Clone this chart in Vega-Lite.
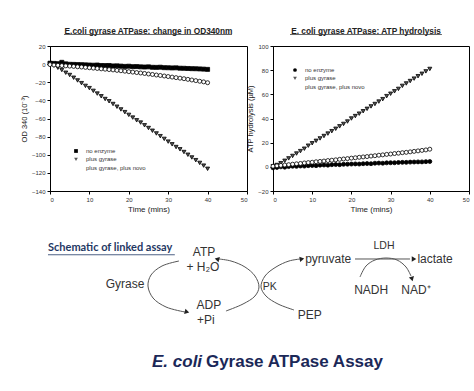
{
 "$schema": "https://vega.github.io/schema/vega-lite/v6.json",
 "padding": {"left": 19, "top": 26, "right": 0, "bottom": 0},
 "background": "white",
 "config": {
  "font": "Liberation Sans",
  "view": {"stroke": "#000", "strokeWidth": 1},
  "axis": {"grid": false, "domainColor": "#000", "tickColor": "#000", "tickSize": 3, "labelFontSize": 6, "labelColor": "#333", "titleFontSize": 7.5, "titleFontWeight": "normal", "titleColor": "#222", "labelFont": "Liberation Sans", "titleFont": "Liberation Sans", "titlePadding": 3, "labelPadding": 2},
  "title": {"fontSize": 8.3, "fontWeight": "bold", "color": "#222", "offset": -1.5, "anchor": "middle", "font": "Liberation Sans", "frame": "group"},
  "legend": {"labelFontSize": 6, "labelColor": "#333", "symbolSize": 14, "symbolStrokeColor": "#000", "symbolStrokeWidth": 0.8, "rowPadding": 0.3, "labelOffset": 7, "padding": 0, "labelFont": "Liberation Sans"}
 },
 "datasets": {
  "od": [
   {"t":0,"s":"no enzyme","v":1.0},{"t":1,"s":"no enzyme","v":0.8},{"t":2,"s":"no enzyme","v":0.5},{"t":3,"s":"no enzyme","v":2.0},{"t":4,"s":"no enzyme","v":0.3},{"t":5,"s":"no enzyme","v":-0.2},{"t":6,"s":"no enzyme","v":-0.3},{"t":7,"s":"no enzyme","v":-0.5},{"t":8,"s":"no enzyme","v":-0.6},{"t":9,"s":"no enzyme","v":-0.8},{"t":10,"s":"no enzyme","v":-1.0},{"t":11,"s":"no enzyme","v":-1.2},{"t":12,"s":"no enzyme","v":-1.0},{"t":13,"s":"no enzyme","v":-1.5},{"t":14,"s":"no enzyme","v":-1.6},{"t":15,"s":"no enzyme","v":-1.5},{"t":16,"s":"no enzyme","v":-2.0},{"t":17,"s":"no enzyme","v":-1.9},{"t":18,"s":"no enzyme","v":-2.2},{"t":19,"s":"no enzyme","v":-2.5},{"t":20,"s":"no enzyme","v":-2.3},{"t":21,"s":"no enzyme","v":-2.8},{"t":22,"s":"no enzyme","v":-2.7},{"t":23,"s":"no enzyme","v":-3.0},{"t":24,"s":"no enzyme","v":-3.2},{"t":25,"s":"no enzyme","v":-3.0},{"t":26,"s":"no enzyme","v":-3.5},{"t":27,"s":"no enzyme","v":-3.6},{"t":28,"s":"no enzyme","v":-3.4},{"t":29,"s":"no enzyme","v":-3.9},{"t":30,"s":"no enzyme","v":-4.0},{"t":31,"s":"no enzyme","v":-4.2},{"t":32,"s":"no enzyme","v":-4.1},{"t":33,"s":"no enzyme","v":-4.5},{"t":34,"s":"no enzyme","v":-4.6},{"t":35,"s":"no enzyme","v":-4.8},{"t":36,"s":"no enzyme","v":-5.0},{"t":37,"s":"no enzyme","v":-5.1},{"t":38,"s":"no enzyme","v":-5.3},{"t":39,"s":"no enzyme","v":-5.5},{"t":40,"s":"no enzyme","v":-5.8},
   {"t":0,"s":"plus gyrase","v":0.5},{"t":1,"s":"plus gyrase","v":-1.5},{"t":2,"s":"plus gyrase","v":-4},{"t":3,"s":"plus gyrase","v":-6.5},{"t":4,"s":"plus gyrase","v":-9.5},{"t":5,"s":"plus gyrase","v":-12},{"t":6,"s":"plus gyrase","v":-15},{"t":7,"s":"plus gyrase","v":-18},{"t":8,"s":"plus gyrase","v":-21},{"t":9,"s":"plus gyrase","v":-24},{"t":10,"s":"plus gyrase","v":-26.5},{"t":11,"s":"plus gyrase","v":-29.5},{"t":12,"s":"plus gyrase","v":-32.5},{"t":13,"s":"plus gyrase","v":-35.5},{"t":14,"s":"plus gyrase","v":-38.5},{"t":15,"s":"plus gyrase","v":-41},{"t":16,"s":"plus gyrase","v":-44},{"t":17,"s":"plus gyrase","v":-47},{"t":18,"s":"plus gyrase","v":-50},{"t":19,"s":"plus gyrase","v":-53},{"t":20,"s":"plus gyrase","v":-56},{"t":21,"s":"plus gyrase","v":-59},{"t":22,"s":"plus gyrase","v":-62},{"t":23,"s":"plus gyrase","v":-64.5},{"t":24,"s":"plus gyrase","v":-67.5},{"t":25,"s":"plus gyrase","v":-70.5},{"t":26,"s":"plus gyrase","v":-73.5},{"t":27,"s":"plus gyrase","v":-76.5},{"t":28,"s":"plus gyrase","v":-79.5},{"t":29,"s":"plus gyrase","v":-82.5},{"t":30,"s":"plus gyrase","v":-85.5},{"t":31,"s":"plus gyrase","v":-88.5},{"t":32,"s":"plus gyrase","v":-91.5},{"t":33,"s":"plus gyrase","v":-94},{"t":34,"s":"plus gyrase","v":-97},{"t":35,"s":"plus gyrase","v":-100},{"t":36,"s":"plus gyrase","v":-103},{"t":37,"s":"plus gyrase","v":-106},{"t":38,"s":"plus gyrase","v":-109},{"t":39,"s":"plus gyrase","v":-112},{"t":40,"s":"plus gyrase","v":-115.5},
   {"t":0,"s":"plus gyrase, plus novo","v":-0.5},{"t":1,"s":"plus gyrase, plus novo","v":-1.0},{"t":2,"s":"plus gyrase, plus novo","v":-1.3},{"t":3,"s":"plus gyrase, plus novo","v":-1.6},{"t":4,"s":"plus gyrase, plus novo","v":-1.9},{"t":5,"s":"plus gyrase, plus novo","v":-2.2},{"t":6,"s":"plus gyrase, plus novo","v":-2.5},{"t":7,"s":"plus gyrase, plus novo","v":-2.9},{"t":8,"s":"plus gyrase, plus novo","v":-3.2},{"t":9,"s":"plus gyrase, plus novo","v":-3.6},{"t":10,"s":"plus gyrase, plus novo","v":-4.0},{"t":11,"s":"plus gyrase, plus novo","v":-4.4},{"t":12,"s":"plus gyrase, plus novo","v":-4.8},{"t":13,"s":"plus gyrase, plus novo","v":-5.2},{"t":14,"s":"plus gyrase, plus novo","v":-5.6},{"t":15,"s":"plus gyrase, plus novo","v":-6.0},{"t":16,"s":"plus gyrase, plus novo","v":-6.4},{"t":17,"s":"plus gyrase, plus novo","v":-6.9},{"t":18,"s":"plus gyrase, plus novo","v":-7.3},{"t":19,"s":"plus gyrase, plus novo","v":-7.8},{"t":20,"s":"plus gyrase, plus novo","v":-8.3},{"t":21,"s":"plus gyrase, plus novo","v":-8.8},{"t":22,"s":"plus gyrase, plus novo","v":-9.3},{"t":23,"s":"plus gyrase, plus novo","v":-9.8},{"t":24,"s":"plus gyrase, plus novo","v":-10.3},{"t":25,"s":"plus gyrase, plus novo","v":-10.9},{"t":26,"s":"plus gyrase, plus novo","v":-11.4},{"t":27,"s":"plus gyrase, plus novo","v":-12.0},{"t":28,"s":"plus gyrase, plus novo","v":-12.5},{"t":29,"s":"plus gyrase, plus novo","v":-13.1},{"t":30,"s":"plus gyrase, plus novo","v":-13.7},{"t":31,"s":"plus gyrase, plus novo","v":-14.3},{"t":32,"s":"plus gyrase, plus novo","v":-14.9},{"t":33,"s":"plus gyrase, plus novo","v":-15.5},{"t":34,"s":"plus gyrase, plus novo","v":-16.1},{"t":35,"s":"plus gyrase, plus novo","v":-16.8},{"t":36,"s":"plus gyrase, plus novo","v":-17.5},{"t":37,"s":"plus gyrase, plus novo","v":-18.2},{"t":38,"s":"plus gyrase, plus novo","v":-18.9},{"t":39,"s":"plus gyrase, plus novo","v":-19.6},{"t":40,"s":"plus gyrase, plus novo","v":-20.5}
  ],
  "atp": [
   {"t":0,"s":"no enzyme","v":-0.8},{"t":1,"s":"no enzyme","v":-0.5},{"t":2,"s":"no enzyme","v":0},{"t":3,"s":"no enzyme","v":-0.3},{"t":4,"s":"no enzyme","v":0.2},{"t":5,"s":"no enzyme","v":0.5},{"t":6,"s":"no enzyme","v":0.4},{"t":7,"s":"no enzyme","v":0.7},{"t":8,"s":"no enzyme","v":0.6},{"t":9,"s":"no enzyme","v":1.0},{"t":10,"s":"no enzyme","v":1.1},{"t":11,"s":"no enzyme","v":1.0},{"t":12,"s":"no enzyme","v":1.4},{"t":13,"s":"no enzyme","v":1.5},{"t":14,"s":"no enzyme","v":1.4},{"t":15,"s":"no enzyme","v":1.8},{"t":16,"s":"no enzyme","v":1.9},{"t":17,"s":"no enzyme","v":1.8},{"t":18,"s":"no enzyme","v":2.1},{"t":19,"s":"no enzyme","v":2.2},{"t":20,"s":"no enzyme","v":2.3},{"t":21,"s":"no enzyme","v":2.4},{"t":22,"s":"no enzyme","v":2.3},{"t":23,"s":"no enzyme","v":2.6},{"t":24,"s":"no enzyme","v":2.7},{"t":25,"s":"no enzyme","v":2.6},{"t":26,"s":"no enzyme","v":3.0},{"t":27,"s":"no enzyme","v":3.1},{"t":28,"s":"no enzyme","v":3.0},{"t":29,"s":"no enzyme","v":3.3},{"t":30,"s":"no enzyme","v":3.4},{"t":31,"s":"no enzyme","v":3.4},{"t":32,"s":"no enzyme","v":3.6},{"t":33,"s":"no enzyme","v":3.7},{"t":34,"s":"no enzyme","v":3.7},{"t":35,"s":"no enzyme","v":3.9},{"t":36,"s":"no enzyme","v":4.0},{"t":37,"s":"no enzyme","v":4.1},{"t":38,"s":"no enzyme","v":4.1},{"t":39,"s":"no enzyme","v":4.3},{"t":40,"s":"no enzyme","v":4.4},
   {"t":0,"s":"plus gyrase","v":0.5},{"t":1,"s":"plus gyrase","v":1.5},{"t":2,"s":"plus gyrase","v":3},{"t":3,"s":"plus gyrase","v":5},{"t":4,"s":"plus gyrase","v":7},{"t":5,"s":"plus gyrase","v":9},{"t":6,"s":"plus gyrase","v":11},{"t":7,"s":"plus gyrase","v":13},{"t":8,"s":"plus gyrase","v":15},{"t":9,"s":"plus gyrase","v":17.5},{"t":10,"s":"plus gyrase","v":19.5},{"t":11,"s":"plus gyrase","v":21.5},{"t":12,"s":"plus gyrase","v":23.5},{"t":13,"s":"plus gyrase","v":25.5},{"t":14,"s":"plus gyrase","v":27.5},{"t":15,"s":"plus gyrase","v":29.5},{"t":16,"s":"plus gyrase","v":31.5},{"t":17,"s":"plus gyrase","v":33.5},{"t":18,"s":"plus gyrase","v":35.5},{"t":19,"s":"plus gyrase","v":37.5},{"t":20,"s":"plus gyrase","v":40},{"t":21,"s":"plus gyrase","v":42},{"t":22,"s":"plus gyrase","v":44},{"t":23,"s":"plus gyrase","v":46},{"t":24,"s":"plus gyrase","v":48},{"t":25,"s":"plus gyrase","v":50},{"t":26,"s":"plus gyrase","v":52},{"t":27,"s":"plus gyrase","v":54},{"t":28,"s":"plus gyrase","v":56},{"t":29,"s":"plus gyrase","v":58.5},{"t":30,"s":"plus gyrase","v":60.5},{"t":31,"s":"plus gyrase","v":62.5},{"t":32,"s":"plus gyrase","v":64.5},{"t":33,"s":"plus gyrase","v":67},{"t":34,"s":"plus gyrase","v":69},{"t":35,"s":"plus gyrase","v":71},{"t":36,"s":"plus gyrase","v":73},{"t":37,"s":"plus gyrase","v":75},{"t":38,"s":"plus gyrase","v":77},{"t":39,"s":"plus gyrase","v":79},{"t":40,"s":"plus gyrase","v":81},
   {"t":0,"s":"plus gyrase, plus novo","v":0.5},{"t":1,"s":"plus gyrase, plus novo","v":0.8},{"t":2,"s":"plus gyrase, plus novo","v":1.2},{"t":3,"s":"plus gyrase, plus novo","v":1.5},{"t":4,"s":"plus gyrase, plus novo","v":1.8},{"t":5,"s":"plus gyrase, plus novo","v":2.2},{"t":6,"s":"plus gyrase, plus novo","v":2.5},{"t":7,"s":"plus gyrase, plus novo","v":2.8},{"t":8,"s":"plus gyrase, plus novo","v":3.2},{"t":9,"s":"plus gyrase, plus novo","v":3.5},{"t":10,"s":"plus gyrase, plus novo","v":3.8},{"t":11,"s":"plus gyrase, plus novo","v":4.2},{"t":12,"s":"plus gyrase, plus novo","v":4.5},{"t":13,"s":"plus gyrase, plus novo","v":4.8},{"t":14,"s":"plus gyrase, plus novo","v":5.2},{"t":15,"s":"plus gyrase, plus novo","v":5.5},{"t":16,"s":"plus gyrase, plus novo","v":5.8},{"t":17,"s":"plus gyrase, plus novo","v":6.2},{"t":18,"s":"plus gyrase, plus novo","v":6.5},{"t":19,"s":"plus gyrase, plus novo","v":6.8},{"t":20,"s":"plus gyrase, plus novo","v":7.2},{"t":21,"s":"plus gyrase, plus novo","v":7.5},{"t":22,"s":"plus gyrase, plus novo","v":7.9},{"t":23,"s":"plus gyrase, plus novo","v":8.2},{"t":24,"s":"plus gyrase, plus novo","v":8.5},{"t":25,"s":"plus gyrase, plus novo","v":8.9},{"t":26,"s":"plus gyrase, plus novo","v":9.2},{"t":27,"s":"plus gyrase, plus novo","v":9.6},{"t":28,"s":"plus gyrase, plus novo","v":9.9},{"t":29,"s":"plus gyrase, plus novo","v":10.3},{"t":30,"s":"plus gyrase, plus novo","v":10.6},{"t":31,"s":"plus gyrase, plus novo","v":11.0},{"t":32,"s":"plus gyrase, plus novo","v":11.3},{"t":33,"s":"plus gyrase, plus novo","v":11.7},{"t":34,"s":"plus gyrase, plus novo","v":12.0},{"t":35,"s":"plus gyrase, plus novo","v":12.4},{"t":36,"s":"plus gyrase, plus novo","v":12.8},{"t":37,"s":"plus gyrase, plus novo","v":13.2},{"t":38,"s":"plus gyrase, plus novo","v":13.6},{"t":39,"s":"plus gyrase, plus novo","v":14.0},{"t":40,"s":"plus gyrase, plus novo","v":14.6}
  ],
  "tul_od": [{"t":3.55,"t2":46.2,"v":32.7}],
  "tul_atp": [{"t":4.34,"t2":43.1,"v":109.5}],
  "txt": [
   {"g":"head","x":-0.47,"y":90,"label":"Schematic of linked assay"},
   {"g":"main","x":36.15,"y":87.3,"label":"ATP"},
   {"g":"main","x":35.9,"y":77.3,"label":"+ H₂O"},
   {"g":"main","x":17.6,"y":66,"label":"Gyrase"},
   {"g":"main","x":37.3,"y":52,"label":"ADP"},
   {"g":"main","x":36.6,"y":42,"label":"+Pi"},
   {"g":"main","x":65.3,"y":82.7,"label":"pyruvate"},
   {"g":"main","x":90.4,"y":82.7,"label":"lactate"},
   {"g":"main","x":75.4,"y":62,"label":"NADH"},
   {"g":"main","x":85.9,"y":62,"label":"NAD⁺"},
   {"g":"main","x":61.0,"y":45.3,"label":"PEP"},
   {"g":"small","x":51.6,"y":64,"label":"PK"},
   {"g":"small","x":78.4,"y":91.3,"label":"LDH"},
   {"g":"title1","x":35.7,"y":14,"label":"E. coli"},
   {"g":"title2","x":36.6,"y":14,"label":"Gyrase ATPase Assay"}
  ],
  "curves": [
   {"id":"c1","i":0,"x":30.28,"y":81.33},{"id":"c1","i":1,"x":26.29,"y":78.0},{"id":"c1","i":2,"x":23.71,"y":72.0},{"id":"c1","i":3,"x":23.0,"y":64.67},{"id":"c1","i":4,"x":24.18,"y":56.67},{"id":"c1","i":5,"x":27.23,"y":50.67},{"id":"c1","i":6,"x":31.69,"y":47.33},
   {"id":"c2","i":0,"x":41.31,"y":48.0},{"id":"c2","i":1,"x":45.31,"y":52.67},{"id":"c2","i":2,"x":48.12,"y":58.0},{"id":"c2","i":3,"x":49.06,"y":64.0},{"id":"c2","i":4,"x":48.12,"y":71.33},{"id":"c2","i":5,"x":45.77,"y":77.33},{"id":"c2","i":6,"x":42.49,"y":81.33},{"id":"c2","i":7,"x":39.67,"y":82.67},
   {"id":"c3","i":0,"x":57.28,"y":48.67},{"id":"c3","i":1,"x":53.52,"y":52.67},{"id":"c3","i":2,"x":50.70,"y":58.0},{"id":"c3","i":3,"x":49.53,"y":64.0},{"id":"c3","i":4,"x":50.47,"y":71.33},{"id":"c3","i":5,"x":53.05,"y":77.33},{"id":"c3","i":6,"x":56.10,"y":81.33},{"id":"c3","i":7,"x":58.69,"y":82.67},
   {"id":"c4","i":0,"x":71.6,"y":82.67},{"id":"c4","i":1,"x":84.5,"y":82.67},
   {"id":"c5","i":0,"x":72.77,"y":70.67},{"id":"c5","i":1,"x":74.18,"y":78.0},{"id":"c5","i":2,"x":76.29,"y":82.0},{"id":"c5","i":3,"x":78.87,"y":83.33},{"id":"c5","i":4,"x":81.46,"y":82.0},{"id":"c5","i":5,"x":83.57,"y":77.33},{"id":"c5","i":6,"x":84.74,"y":71.33}
  ],
  "heads": [
   {"id":"a1","x":32.16,"y":47.33},
   {"id":"a2","x":39.2,"y":82.67},
   {"id":"a3","x":59.15,"y":82.67},
   {"id":"a4","x":85.45,"y":82.67},
   {"id":"a5","x":84.98,"y":69.33}
  ],
  "uline": [{"x":-0.47,"x2":29.3,"y":85.5}]
 },
 "vconcat": [
  {
   "hconcat": [
    {
     "width": 197, "height": 145,
     "title": "E.coli gyrase ATPase: change in OD340nm",
     "encoding": {
      "x": {"field": "t", "type": "quantitative", "scale": {"domain": [0, 50]}, "axis": {"values": [0, 10, 20, 30, 40, 50], "title": "Time (mins)", "titleFontSize": 8}},
      "y": {"field": "v", "type": "quantitative", "scale": {"domain": [-140, 20]}, "axis": {"values": [-140, -120, -100, -80, -60, -40, -20, 0, 20], "title": "OD 340 (10⁻³)"}}
     },
     "layer": [
      {
       "data": {"name": "od"},
       "mark": {"type": "point", "stroke": "#000", "strokeWidth": 0.8, "size": 16, "opacity": 1},
       "encoding": {
        "shape": {"field": "s", "type": "nominal", "scale": {"domain": ["no enzyme", "plus gyrase", "plus gyrase, plus novo"], "range": ["square", "triangle-down", "circle"]}, "legend": {"orient": "none", "legendX": 23, "legendY": 102, "title": null}},
        "fill": {"field": "s", "type": "nominal", "scale": {"domain": ["no enzyme", "plus gyrase", "plus gyrase, plus novo"], "range": ["#000", "#555", "#fff"]}, "legend": {"orient": "none", "legendX": 23, "legendY": 102, "title": null}}
       }
      },
      {
       "data": {"name": "tul_od"},
       "mark": {"type": "rule", "stroke": "#222", "strokeWidth": 0.7},
       "encoding": {"x2": {"field": "t2"}}
      }
     ]
    },
    {
     "width": 196, "height": 145,
     "title": {"text": "E. coli gyrase ATPase: ATP hydrolysis", "dx": -5},
     "encoding": {
      "x": {"field": "t", "type": "quantitative", "scale": {"domain": [0, 50]}, "axis": {"values": [0, 10, 20, 30, 40, 50], "title": "Time (mins)", "titleFontSize": 8}},
      "y": {"field": "v", "type": "quantitative", "scale": {"domain": [-20, 100]}, "axis": {"values": [-20, 0, 20, 40, 60, 80, 100], "title": "ATP hydrolysis (µM)"}}
     },
     "layer": [
      {
       "data": {"name": "atp"},
       "mark": {"type": "point", "stroke": "#000", "strokeWidth": 0.8, "size": 16, "opacity": 1},
       "encoding": {
        "shape": {"field": "s", "type": "nominal", "scale": {"domain": ["no enzyme", "plus gyrase", "plus gyrase, plus novo"], "range": ["circle", "triangle-down", "circle"]}, "legend": {"orient": "none", "legendX": 19, "legendY": 21, "title": null}},
        "fill": {"field": "s", "type": "nominal", "scale": {"domain": ["no enzyme", "plus gyrase", "plus gyrase, plus novo"], "range": ["#000", "#555", "#fff"]}, "legend": {"orient": "none", "legendX": 19, "legendY": 21, "title": null}}
       }
      },
      {
       "data": {"name": "tul_atp"},
       "mark": {"type": "rule", "stroke": "#222", "strokeWidth": 0.7},
       "encoding": {"x2": {"field": "t2"}}
      }
     ]
    }
   ],
   "spacing": 26,
   "bounds": "flush",
   "resolve": {"scale": {"shape": "independent", "fill": "independent"}, "legend": {"shape": "independent", "fill": "independent"}}
  },
  {
   "width": 426, "height": 150,
   "view": {"stroke": null},
   "encoding": {
    "x": {"field": "x", "type": "quantitative", "scale": {"domain": [0, 100]}, "axis": null},
    "y": {"field": "y", "type": "quantitative", "scale": {"domain": [0, 100]}, "axis": null}
   },
   "layer": [
    {"data": {"name": "curves"}, "mark": {"type": "line", "interpolate": "catmull-rom", "stroke": "#555", "strokeWidth": 1}, "encoding": {"detail": {"field": "id"}, "order": {"field": "i"}}},
    {"data": {"name": "heads"}, "transform": [{"filter": "datum.id == 'a1'"}], "mark": {"type": "point", "shape": "triangle-right", "filled": true, "fill": "#222", "size": 28, "angle": 15, "opacity": 1}},
    {"data": {"name": "heads"}, "transform": [{"filter": "datum.id == 'a2'"}], "mark": {"type": "point", "shape": "triangle-right", "filled": true, "fill": "#222", "size": 28, "angle": 195, "opacity": 1}},
    {"data": {"name": "heads"}, "transform": [{"filter": "datum.id == 'a3'"}], "mark": {"type": "point", "shape": "triangle-right", "filled": true, "fill": "#222", "size": 28, "angle": 350, "opacity": 1}},
    {"data": {"name": "heads"}, "transform": [{"filter": "datum.id == 'a4'"}], "mark": {"type": "point", "shape": "triangle-right", "filled": true, "fill": "#222", "size": 28, "angle": 0, "opacity": 1}},
    {"data": {"name": "heads"}, "transform": [{"filter": "datum.id == 'a5'"}], "mark": {"type": "point", "shape": "triangle-right", "filled": true, "fill": "#222", "size": 28, "angle": 75, "opacity": 1}},
    {"data": {"name": "uline"}, "mark": {"type": "rule", "stroke": "#1F3864", "strokeWidth": 0.8}, "encoding": {"x2": {"field": "x2"}}},
    {"data": {"name": "txt"}, "transform": [{"filter": "datum.g == 'main'"}], "mark": {"type": "text", "font": "Liberation Sans", "fontSize": 12, "fill": "#333", "align": "center", "baseline": "middle"}, "encoding": {"text": {"field": "label"}}},
    {"data": {"name": "txt"}, "transform": [{"filter": "datum.g == 'small'"}], "mark": {"type": "text", "font": "Liberation Sans", "fontSize": 10.5, "fill": "#333", "align": "center", "baseline": "middle"}, "encoding": {"text": {"field": "label"}}},
    {"data": {"name": "txt"}, "transform": [{"filter": "datum.g == 'head'"}], "mark": {"type": "text", "font": "Lato", "fontSize": 11, "fontWeight": "bold", "fill": "#1F3864", "align": "left", "baseline": "middle"}, "encoding": {"text": {"field": "label"}}},
    {"data": {"name": "txt"}, "transform": [{"filter": "datum.g == 'title1'"}], "mark": {"type": "text", "font": "Liberation Sans", "fontSize": 17, "fontWeight": "bold", "fontStyle": "italic", "fill": "#1B2858", "align": "right", "baseline": "middle"}, "encoding": {"text": {"field": "label"}}},
    {"data": {"name": "txt"}, "transform": [{"filter": "datum.g == 'title2'"}], "mark": {"type": "text", "font": "Liberation Sans", "fontSize": 17, "fontWeight": "bold", "fill": "#1B2858", "align": "left", "baseline": "middle"}, "encoding": {"text": {"field": "label"}}}
   ]
  }
 ],
 "spacing": 187,
 "bounds": "flush"
}
